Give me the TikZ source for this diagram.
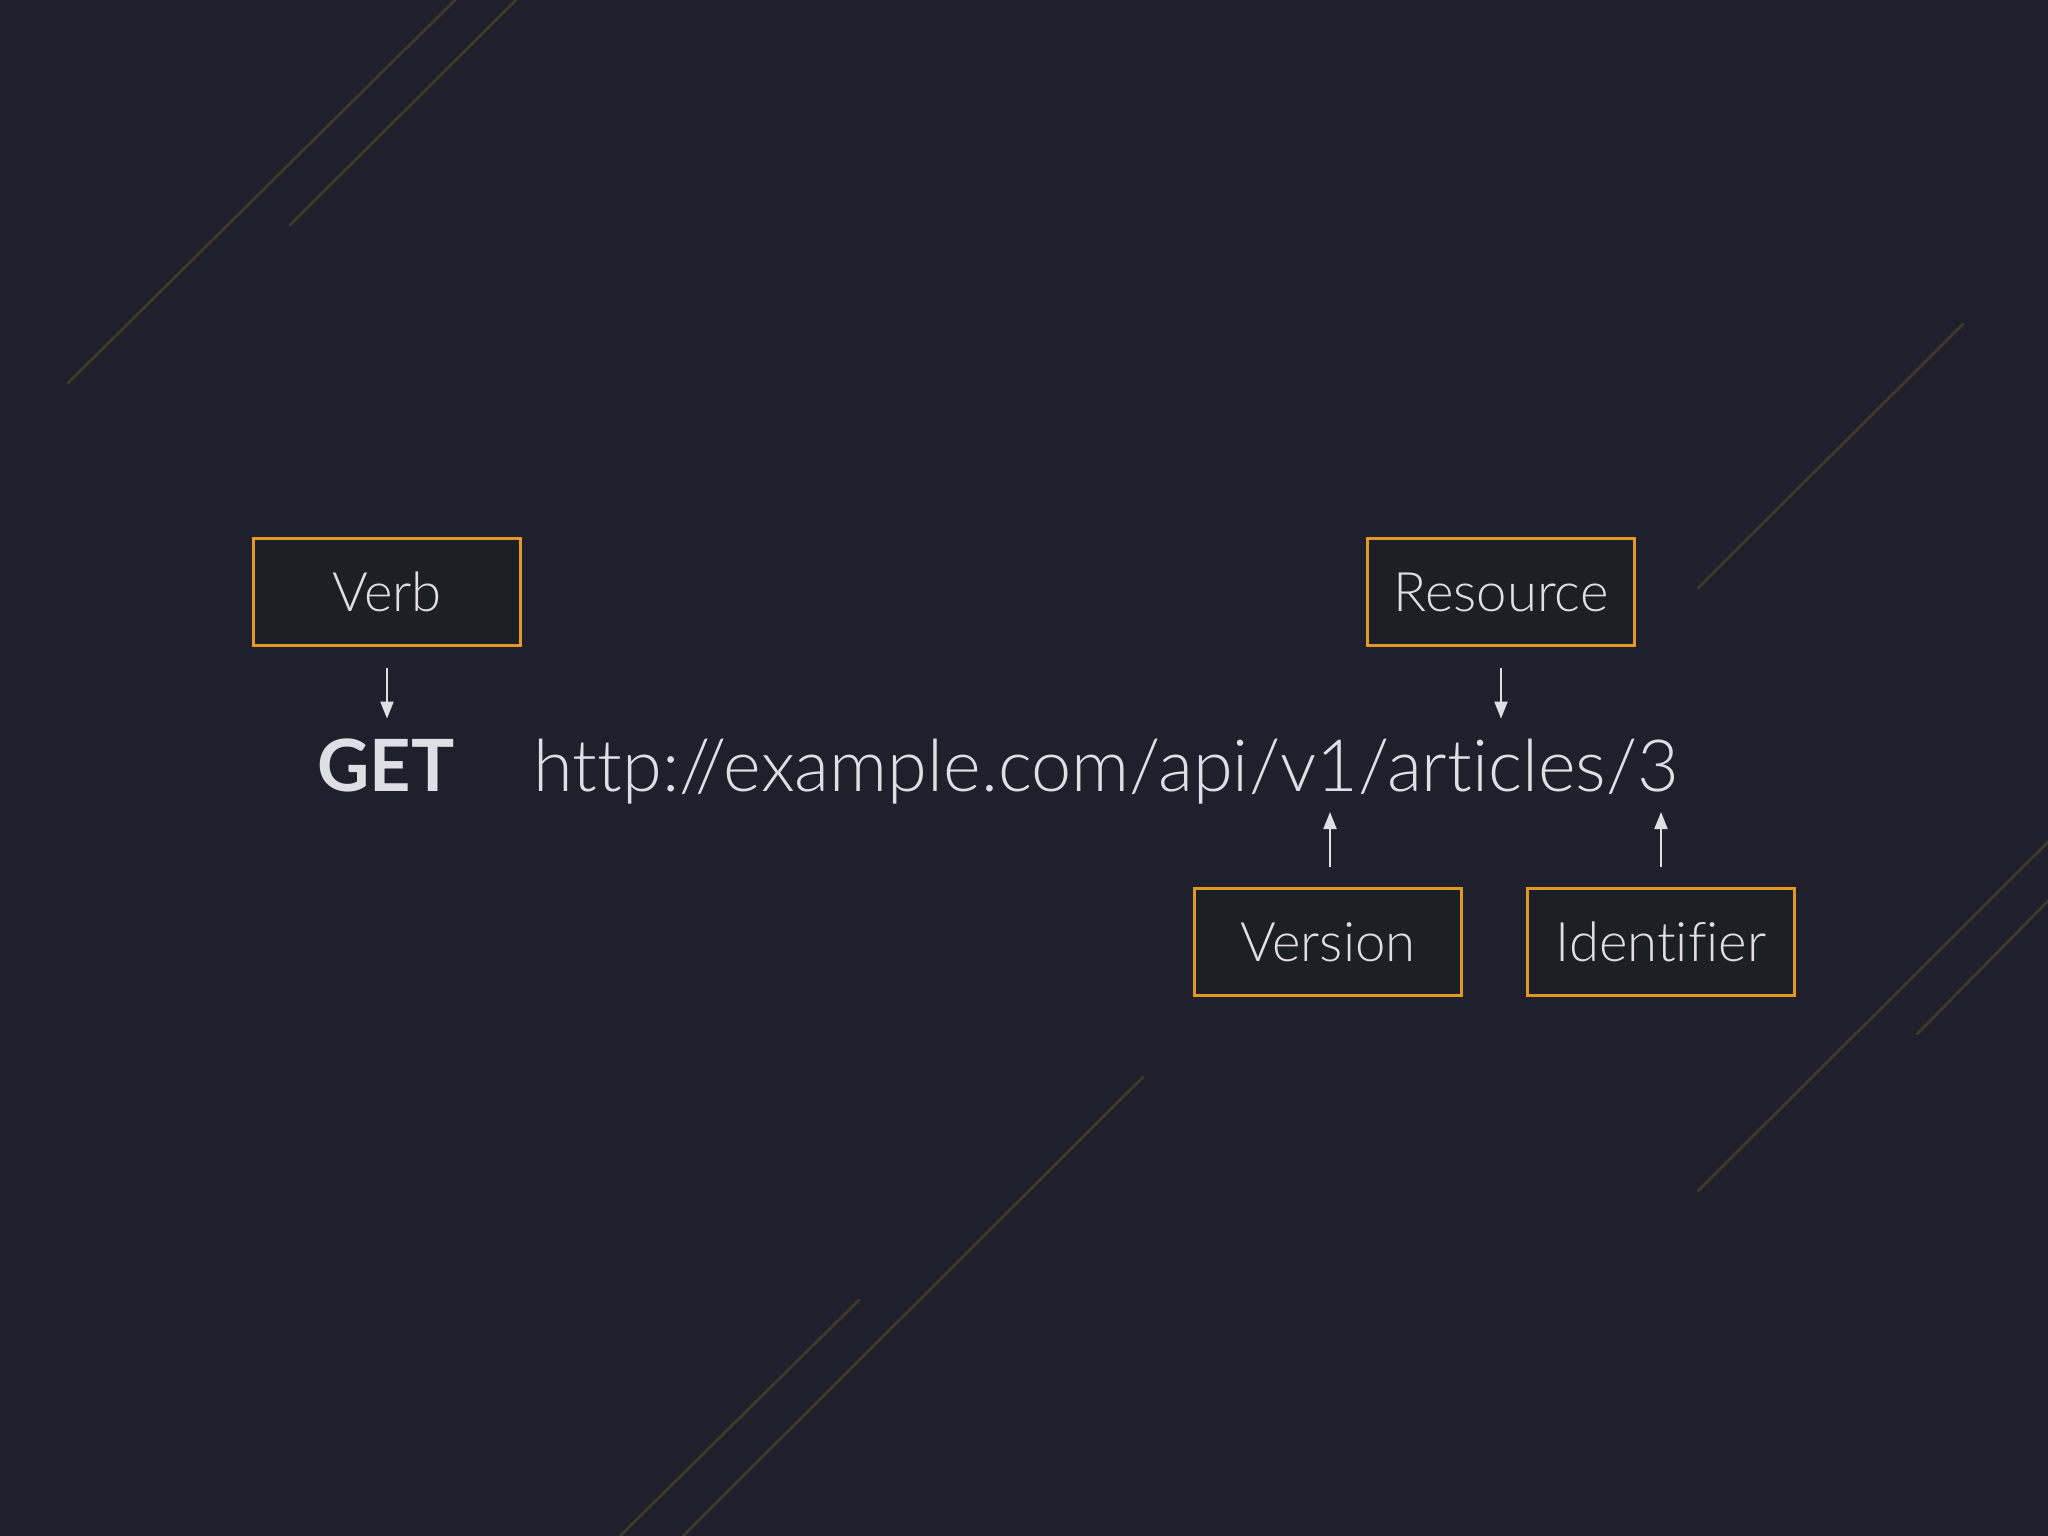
\documentclass[tikz,border=0pt]{standalone}
\usepackage{fontspec}
\setmainfont{Lato}[Ligatures=NoCommon]
\newfontfamily\lightfont{Lato Light}[Ligatures=NoCommon]
\usetikzlibrary{arrows.meta}
\definecolor{bg}{RGB}{31,32,43}
\definecolor{boxfill}{RGB}{29,31,39}
\definecolor{gold}{RGB}{228,152,36}
\definecolor{txt}{RGB}{222,222,228}
\definecolor{deco}{RGB}{62,57,40}
\tikzset{
  labelbox/.style={draw=gold, line width=0.9pt, fill=boxfill, minimum width=2.67cm,
    minimum height=1.07cm, inner sep=0pt, text=txt, font=\lightfont\fontsize{15.5}{18}\selectfont},
  reqtext/.style={inner sep=0pt, text=txt},
  pointer/.style={draw=txt, line width=0.6pt, -{Triangle[length=0.17cm,width=0.13cm]}},
  decoline/.style={draw=deco, line width=0.8pt, line cap=round}
}
\begin{document}
\begin{tikzpicture}[x=0.01cm,y=-0.01cm]
\fill[bg] (0,0) rectangle (2048,1536);
\useasboundingbox (0,0) rectangle (2048,1536);
% decorative diagonal lines
\draw[decoline] (68,383) -- (455,0);
\draw[decoline] (290,225) -- (516,0);
\draw[decoline] (1698,588) -- (1963,324);
\draw[decoline] (1698,1191) -- (2048,842);
\draw[decoline] (1917,1034) -- (2048,901);
\draw[decoline] (683,1536) -- (1143,1077);
\draw[decoline] (620,1536) -- (859,1300);
% boxes
\node[labelbox] (verb) at (387,592) {Verb};
\node[labelbox] (res) at (1501,592) {Resource};
\node[labelbox] (ver) at (1328,942) {Version};
\node[labelbox] (ident) at (1661,942) {Identifier};
% request line
\node[reqtext, anchor=base, font=\bfseries\fontsize{20.5}{24}\selectfont] (get) at (386,791) {GET};
\node[reqtext, anchor=base west, font=\lightfont\fontsize{20.5}{24}\selectfont] (url) at (533,791) {http://example.com/api/v1/articles/3};
% arrows
\draw[pointer, shorten <=0.21cm, shorten >=0.19cm] (verb.south) -- (verb.south |- get.north);
\draw[pointer, shorten <=0.21cm, shorten >=0.19cm] (res.south) -- (res.south |- get.north);
\draw[pointer, shorten <=0.20cm, shorten >=0.21cm] ([xshift=0.02cm]ver.north) -- ([xshift=0.02cm]ver.north |- get.base);
\draw[pointer, shorten <=0.20cm, shorten >=0.21cm] (ident.north) -- (ident.north |- get.base);
\end{tikzpicture}
\end{document}
